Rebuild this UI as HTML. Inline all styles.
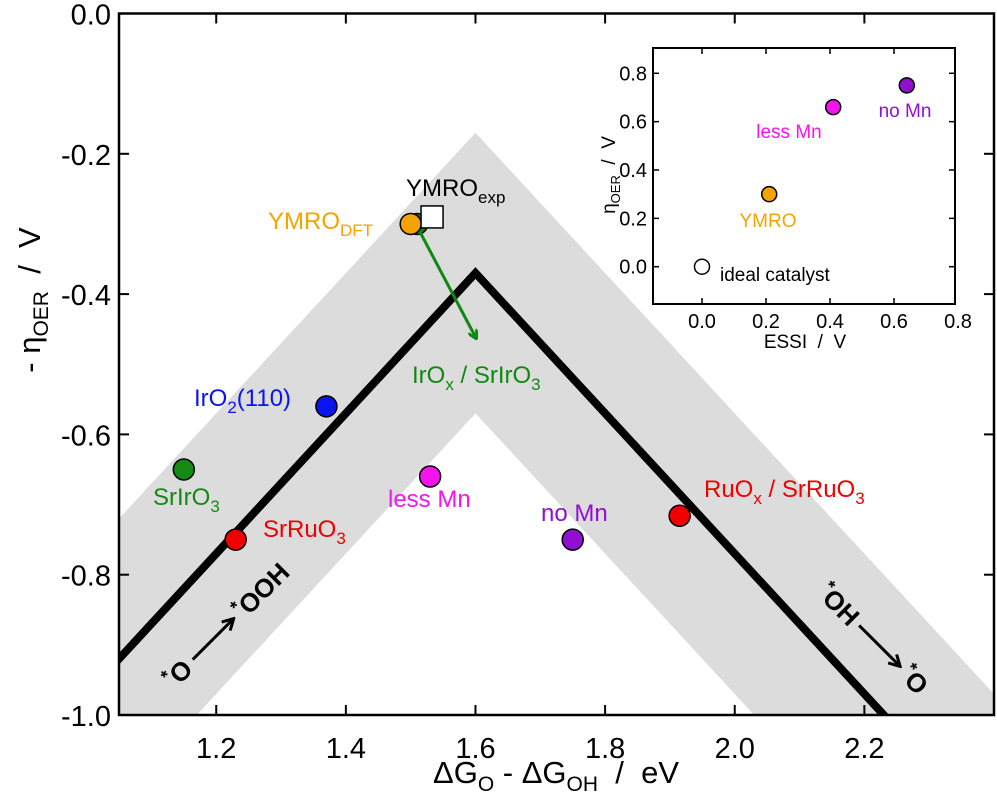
<!DOCTYPE html>
<html><head><meta charset="utf-8"><style>
html,body{margin:0;padding:0;background:#fff;overflow:hidden;width:997px;height:801px;}
svg{display:block;font-family:"Liberation Sans",Arial,sans-serif;}
text{white-space:pre;}
</style></head><body>
<svg id="c" width="997" height="801" viewBox="0 0 997 801"></svg>
<script>
// main chart data
const mainNames = ["YMRO-exp-green","YMRO-DFT","IrO2-110","SrIrO3","SrRuO3","less-Mn","no-Mn","RuOx-SrRuO3"];
const mainX = [1.51,1.50,1.37,1.15,1.23,1.53,1.75,1.915];
const mainY = [-0.30,-0.30,-0.56,-0.65,-0.75,-0.66,-0.75,-0.716];
const mainColors = ["#118811","#f5a300","#0a14f0","#148a14","#f00000","#f514f0","#9010d0","#f00000"];
const expX = [1.533];
const expY = [-0.29];
const peakX = [1.6];
const peakY = [-0.37];
const bandHalf = [0.2];
const xTicks = [1.2,1.4,1.6,1.8,2.0,2.2];
const yTicks = [0.0,-0.2,-0.4,-0.6,-0.8,-1.0];
// inset data
const insetNames = ["ideal","YMRO","less-Mn","no-Mn"];
const insetX = [0.0,0.21,0.41,0.64];
const insetY = [0.0,0.30,0.66,0.75];
const insetColors = ["#ffffff","#f5a300","#f514f0","#9010d0"];
const insetXTicks = [0.0,0.2,0.4,0.6,0.8];
const insetYTicks = [0.0,0.2,0.4,0.6,0.8];

const NS="http://www.w3.org/2000/svg";
const svg=document.getElementById('c');
function mk(tag,attrs,parent){const e=document.createElementNS(NS,tag);for(const k in attrs)e.setAttribute(k,attrs[k]);(parent||svg).appendChild(e);return e;}
const L=119,R=994,T=13.5,B=715;
const X0=1.05,X1=2.40,Y0=-1.0,Y1=0.0;
const sx=v=>L+(v-X0)/(X1-X0)*(R-L);
const sy=v=>B-(v-Y0)/(Y1-Y0)*(B-T);
const defs=mk('defs',{});
const cp=mk('clipPath',{id:'clip'},defs);mk('rect',{x:L,y:T,width:R-L,height:B-T},cp);
const g=mk('g',{'clip-path':'url(#clip)'});
function volc(off){const px=peakX[0],py=peakY[0]+off;return [[X0-0.5,py-(px-X0+0.5)],[px,py],[X1+0.5,py-(X1+0.5-px)]];}
const up=volc(bandHalf[0]),dn=volc(-bandHalf[0]);
const band=mk('path',{d:'M'+up.map(p=>sx(p[0])+','+sy(p[1])).join(' L')+' L'+dn.reverse().map(p=>sx(p[0])+','+sy(p[1])).join(' L')+'Z',fill:'#dcdcdc'},g);


const vl=mk('polyline',{points:volc(0).map(p=>sx(p[0])+','+sy(p[1])).join(' '),fill:'none',stroke:'#000','stroke-width':8},g);


// frame
mk('rect',{x:L,y:T,width:R-L,height:B-T,fill:'none',stroke:'#000','stroke-width':2.5,});
xTicks.forEach(v=>{const x=sx(v);
 mk('line',{x1:x,y1:B,x2:x,y2:B-10,stroke:'#000','stroke-width':2});
 mk('line',{x1:x,y1:T,x2:x,y2:T+10,stroke:'#000','stroke-width':2});
 const t=mk('text',{x:x,y:B+43,'font-size':29,'text-anchor':'middle'});t.textContent=v.toFixed(1);
 
 });
yTicks.forEach(v=>{const y=sy(v);
 mk('line',{x1:L,y1:y,x2:L+10,y2:y,stroke:'#000','stroke-width':2});
 mk('line',{x1:R,y1:y,x2:R-10,y2:y,stroke:'#000','stroke-width':2});
 const t=mk('text',{x:L-8,y:y+11,'font-size':29,'text-anchor':'end'});t.textContent=v.toFixed(1);
 
 });
// arrow marker
const mkr=mk('marker',{id:'ah',markerWidth:10,markerHeight:10,refX:8,refY:5,orient:'auto',markerUnits:'userSpaceOnUse'},defs);
mk('path',{d:'M0,0 L9,5 L0,10',fill:'none',stroke:'#118811','stroke-width':3},mkr);
const mkb=mk('marker',{id:'ahb',markerWidth:14,markerHeight:14,refX:12,refY:7,orient:'auto',markerUnits:'userSpaceOnUse'},defs);
mk('path',{d:'M1,1 L12,7 L1,13',fill:'none',stroke:'#000','stroke-width':3},mkb);
// points
mainX.forEach((v,i)=>{const c=mk('circle',{cx:sx(v),cy:sy(mainY[i]),r:10.5,fill:mainColors[i],stroke:'#000','stroke-width':1.5});
 
 });
const sq=mk('rect',{x:sx(expX[0])-11,y:sy(expY[0])-11,width:22,height:22,fill:'#fff',stroke:'#000','stroke-width':1.5});


mk('line',{x1:420,y1:232,x2:476,y2:338,stroke:'#118811','stroke-width':3,'marker-end':'url(#ah)',});
function lab(x,y,html,col,size,name,anchor){const t=mk('text',{x:x,y:y,fill:col,'font-size':size||24,'text-anchor':anchor||'start'});t.innerHTML=html;return t;}
const sub=s=>'<tspan dy="7" font-size="17">'+s+'</tspan>';
lab(268,229,'YMRO'+sub('DFT'),'#f5a300',24,'label-ymro-dft');
lab(406,196,'YMRO'+sub('exp'),'#000',24,'label-ymro-exp');
lab(412,383,'IrO'+sub('x')+'<tspan dy="-7"> / SrIrO</tspan>'+sub('3'),'#118811',24,'label-irox-srir');
lab(194,406,'IrO'+sub('2')+'<tspan dy="-7">(110)</tspan>','#0a14f0',24,'label-iro2');
lab(153,505,'SrIrO'+sub('3'),'#148a14',24,'label-srir');
lab(263,537,'SrRuO'+sub('3'),'#f00000',24,'label-srru');
lab(388,507,'less Mn','#f514f0',24,'label-less-mn');
lab(541,521,'no Mn','#9010d0',24,'label-no-mn');
lab(704,497,'RuO'+sub('x')+'<tspan dy="-7"> / SrRuO</tspan>'+sub('3'),'#f00000',24,'label-ruox-srru');
// rotated annotations
const a1=mk('g',{transform:'translate(175,690) rotate(-45)',});
let t=mk('text',{x:0,y:0,'font-size':26,'font-weight':'bold'},a1);t.innerHTML='<tspan dy="-10" font-size="18">*</tspan><tspan dy="10">O</tspan>';
mk('line',{x1:34,y1:-9,x2:92,y2:-9,stroke:'#000','stroke-width':3,'marker-end':'url(#ahb)'},a1);
t=mk('text',{x:98,y:0,'font-size':26,'font-weight':'bold'},a1);t.innerHTML='<tspan dy="-10" font-size="18">*</tspan><tspan dy="10">OOH</tspan>';
const a2=mk('g',{transform:'translate(816,595) rotate(45)',});
t=mk('text',{x:0,y:0,'font-size':26,'font-weight':'bold'},a2);t.innerHTML='<tspan dy="-10" font-size="18">*</tspan><tspan dy="10">OH</tspan>';
mk('line',{x1:52,y1:-9,x2:110,y2:-9,stroke:'#000','stroke-width':3,'marker-end':'url(#ahb)'},a2);
t=mk('text',{x:116,y:0,'font-size':26,'font-weight':'bold'},a2);t.innerHTML='<tspan dy="-10" font-size="18">*</tspan><tspan dy="10">O</tspan>';
// axis titles
lab(556,783,'ΔG<tspan dy="8" font-size="21">O</tspan><tspan dy="-8"> - ΔG</tspan><tspan dy="8" font-size="21">OH</tspan><tspan dy="-8">  /  eV</tspan>','#000',31,'x-axis-title','middle');
const yt=mk('text',{x:0,y:0,'font-size':31,'text-anchor':'middle',transform:'translate(40,300) rotate(-90)'});
yt.innerHTML='- η<tspan dy="8" font-size="21">OER</tspan><tspan dy="-8">  /  V</tspan>';


// inset
const iL=653,iR=955,iT=48,iB=304;
const ix=v=>702+v/0.8*(958-702);
const iy=v=>266.7-v/0.8*(266.7-73.3);
mk('rect',{x:iL,y:iT,width:iR-iL,height:iB-iT,fill:'#fff',stroke:'#000','stroke-width':2,});
insetXTicks.forEach(v=>{const x=ix(v);if(x<iR-2){mk('line',{x1:x,y1:iB,x2:x,y2:iB-6,stroke:'#000','stroke-width':1.5});mk('line',{x1:x,y1:iT,x2:x,y2:iT+6,stroke:'#000','stroke-width':1.5});}
 const tt=mk('text',{x:x,y:iB+24,'font-size':20,'text-anchor':'middle'});tt.textContent=v.toFixed(1);
 
 });
insetYTicks.forEach(v=>{const y=iy(v);mk('line',{x1:iL,y1:y,x2:iL+6,y2:y,stroke:'#000','stroke-width':1.5});mk('line',{x1:iR,y1:y,x2:iR-6,y2:y,stroke:'#000','stroke-width':1.5});
 const tt=mk('text',{x:iL-6,y:y+7,'font-size':20,'text-anchor':'end'});tt.textContent=v.toFixed(1);
 
 });
insetX.forEach((v,i)=>{const c=mk('circle',{cx:ix(v),cy:iy(insetY[i]),r:7.5,fill:insetColors[i],stroke:'#000','stroke-width':1.5});
 
 });
lab(720,281,'ideal catalyst','#000',19,'inset-label-ideal');
lab(768,227,'YMRO','#f5a300',19,'inset-label-ymro','middle');
lab(789,138,'less Mn','#f514f0',19,'inset-label-less-mn','middle');
lab(905,117,'no Mn','#9010d0',19,'inset-label-no-mn','middle');
lab(805,348,'ESSI  /  V','#000',19,'inset-x-title','middle');
const it=mk('text',{x:0,y:0,'font-size':19,'text-anchor':'middle',transform:'translate(615,175) rotate(-90)'});
it.innerHTML='η<tspan dy="5" font-size="13">OER</tspan><tspan dy="-5">  /  V</tspan>';


</script>
</body></html>
